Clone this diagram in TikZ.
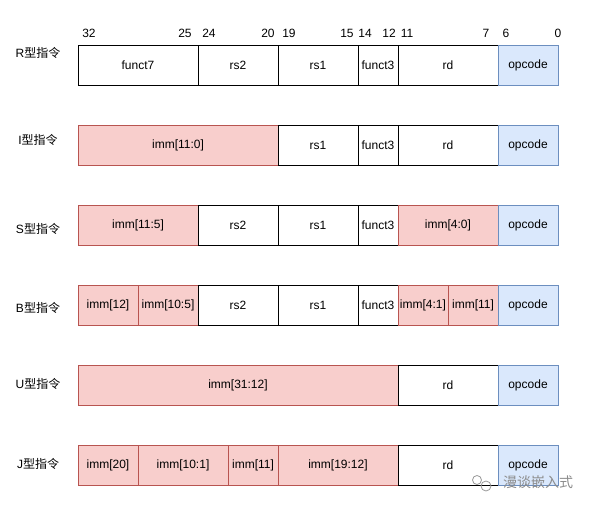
\documentclass[tikz,border=0pt]{standalone}
\usepackage{fontspec}
\setmainfont{Liberation Sans}
\newfontfamily\cjk{Noto Sans CJK SC}
\definecolor{pinkfill}{HTML}{F8CECC}
\definecolor{pinkline}{HTML}{B85450}
\definecolor{bluefill}{HTML}{DAE8FC}
\definecolor{blueline}{HTML}{6C8EBF}
\begin{document}
\begin{tikzpicture}[x=1pt,y=-1pt,
  fld/.style={draw=black,line width=1pt,fill=white},
  immf/.style={draw=pinkline,line width=1pt,fill=pinkfill},
  opf/.style={draw=blueline,line width=1pt,fill=bluefill},
  txt/.style={font=\fontsize{12}{14}\selectfont,inner sep=0pt},
  rowlab/.style={font=\fontsize{12}{14}\selectfont,inner sep=0pt},
  bitlab/.style={font=\fontsize{12}{14}\selectfont,inner sep=0pt}]
\useasboundingbox (0,0) rectangle (590,509);
\newcommand{\fieldbox}[6]{% name style x1 x2 y text
  \draw[#2] (#3,#5) rectangle (#4,#5+40);
  \node[txt] (#1) at ({(#3+#4)/2},#5+20) {#6};}
% bit labels
\foreach \t/\x in {32/89,25/185,24/209,20/268,19/289,15/347,14/365,12/389,11/407,7/486,6/506,0/558}
  \node[bitlab] (b\t) at (\x,33) {\t};
% row labels
\node[rowlab] (lr) at (38,53) {R{\cjk 型指令}};
\node[rowlab] (li) at (38,140) {I{\cjk 型指令}};
\node[rowlab] (ls) at (38,229) {S{\cjk 型指令}};
\node[rowlab] (lb) at (38,308) {B{\cjk 型指令}};
\node[rowlab] (lu) at (38,384) {U{\cjk 型指令}};
\node[rowlab] (lj) at (38,464) {J{\cjk 型指令}};
% R
\fieldbox{r1}{fld}{78}{198}{45}{funct7}
\fieldbox{r2}{fld}{198}{278}{45}{rs2}
\fieldbox{r3}{fld}{278}{358}{45}{rs1}
\fieldbox{r4}{fld}{358}{398}{45}{funct3}
\fieldbox{r5}{fld}{398}{498}{45}{rd}
\fieldbox{r6}{opf}{498}{558}{45}{opcode}
% I
\fieldbox{i1}{immf}{78}{278}{125}{imm[11:0]}
\fieldbox{i3}{fld}{278}{358}{125}{rs1}
\fieldbox{i4}{fld}{358}{398}{125}{funct3}
\fieldbox{i5}{fld}{398}{498}{125}{rd}
\fieldbox{i6}{opf}{498}{558}{125}{opcode}
% S
\fieldbox{s1}{immf}{78}{198}{205}{imm[11:5]}
\fieldbox{s2}{fld}{198}{278}{205}{rs2}
\fieldbox{s3}{fld}{278}{358}{205}{rs1}
\fieldbox{s4}{fld}{358}{398}{205}{funct3}
\fieldbox{s5}{immf}{398}{498}{205}{imm[4:0]}
\fieldbox{s6}{opf}{498}{558}{205}{opcode}
% B
\fieldbox{b1}{immf}{78}{138}{285}{imm[12]}
\fieldbox{b1b}{immf}{138}{198}{285}{imm[10:5]}
\fieldbox{b2}{fld}{198}{278}{285}{rs2}
\fieldbox{b3}{fld}{278}{358}{285}{rs1}
\fieldbox{b4}{fld}{358}{398}{285}{funct3}
\fieldbox{b5}{immf}{398}{448}{285}{imm[4:1]}
\fieldbox{b5b}{immf}{448}{498}{285}{imm[11]}
\fieldbox{b6}{opf}{498}{558}{285}{opcode}
% U
\fieldbox{u1}{immf}{78}{398}{365}{imm[31:12]}
\fieldbox{u5}{fld}{398}{498}{365}{rd}
\fieldbox{u6}{opf}{498}{558}{365}{opcode}
% J
\fieldbox{j1}{immf}{78}{138}{445}{imm[20]}
\fieldbox{j2}{immf}{138}{228}{445}{imm[10:1]}
\fieldbox{j3}{immf}{228}{278}{445}{imm[11]}
\fieldbox{j4}{immf}{278}{398}{445}{imm[19:12]}
\fieldbox{j5}{fld}{398}{498}{445}{rd}
\fieldbox{j6}{opf}{498}{558}{445}{opcode}
% watermark
\node[inner sep=0pt,text=black!45,font=\cjk\fontsize{14}{16}\selectfont] (wm) at (538,482) {漫谈嵌入式};
\draw[black!40,line width=0.8pt] (477,480) circle (4.5);
\draw[black!40,line width=0.8pt] (486,486) circle (5);
\end{tikzpicture}
\end{document}
